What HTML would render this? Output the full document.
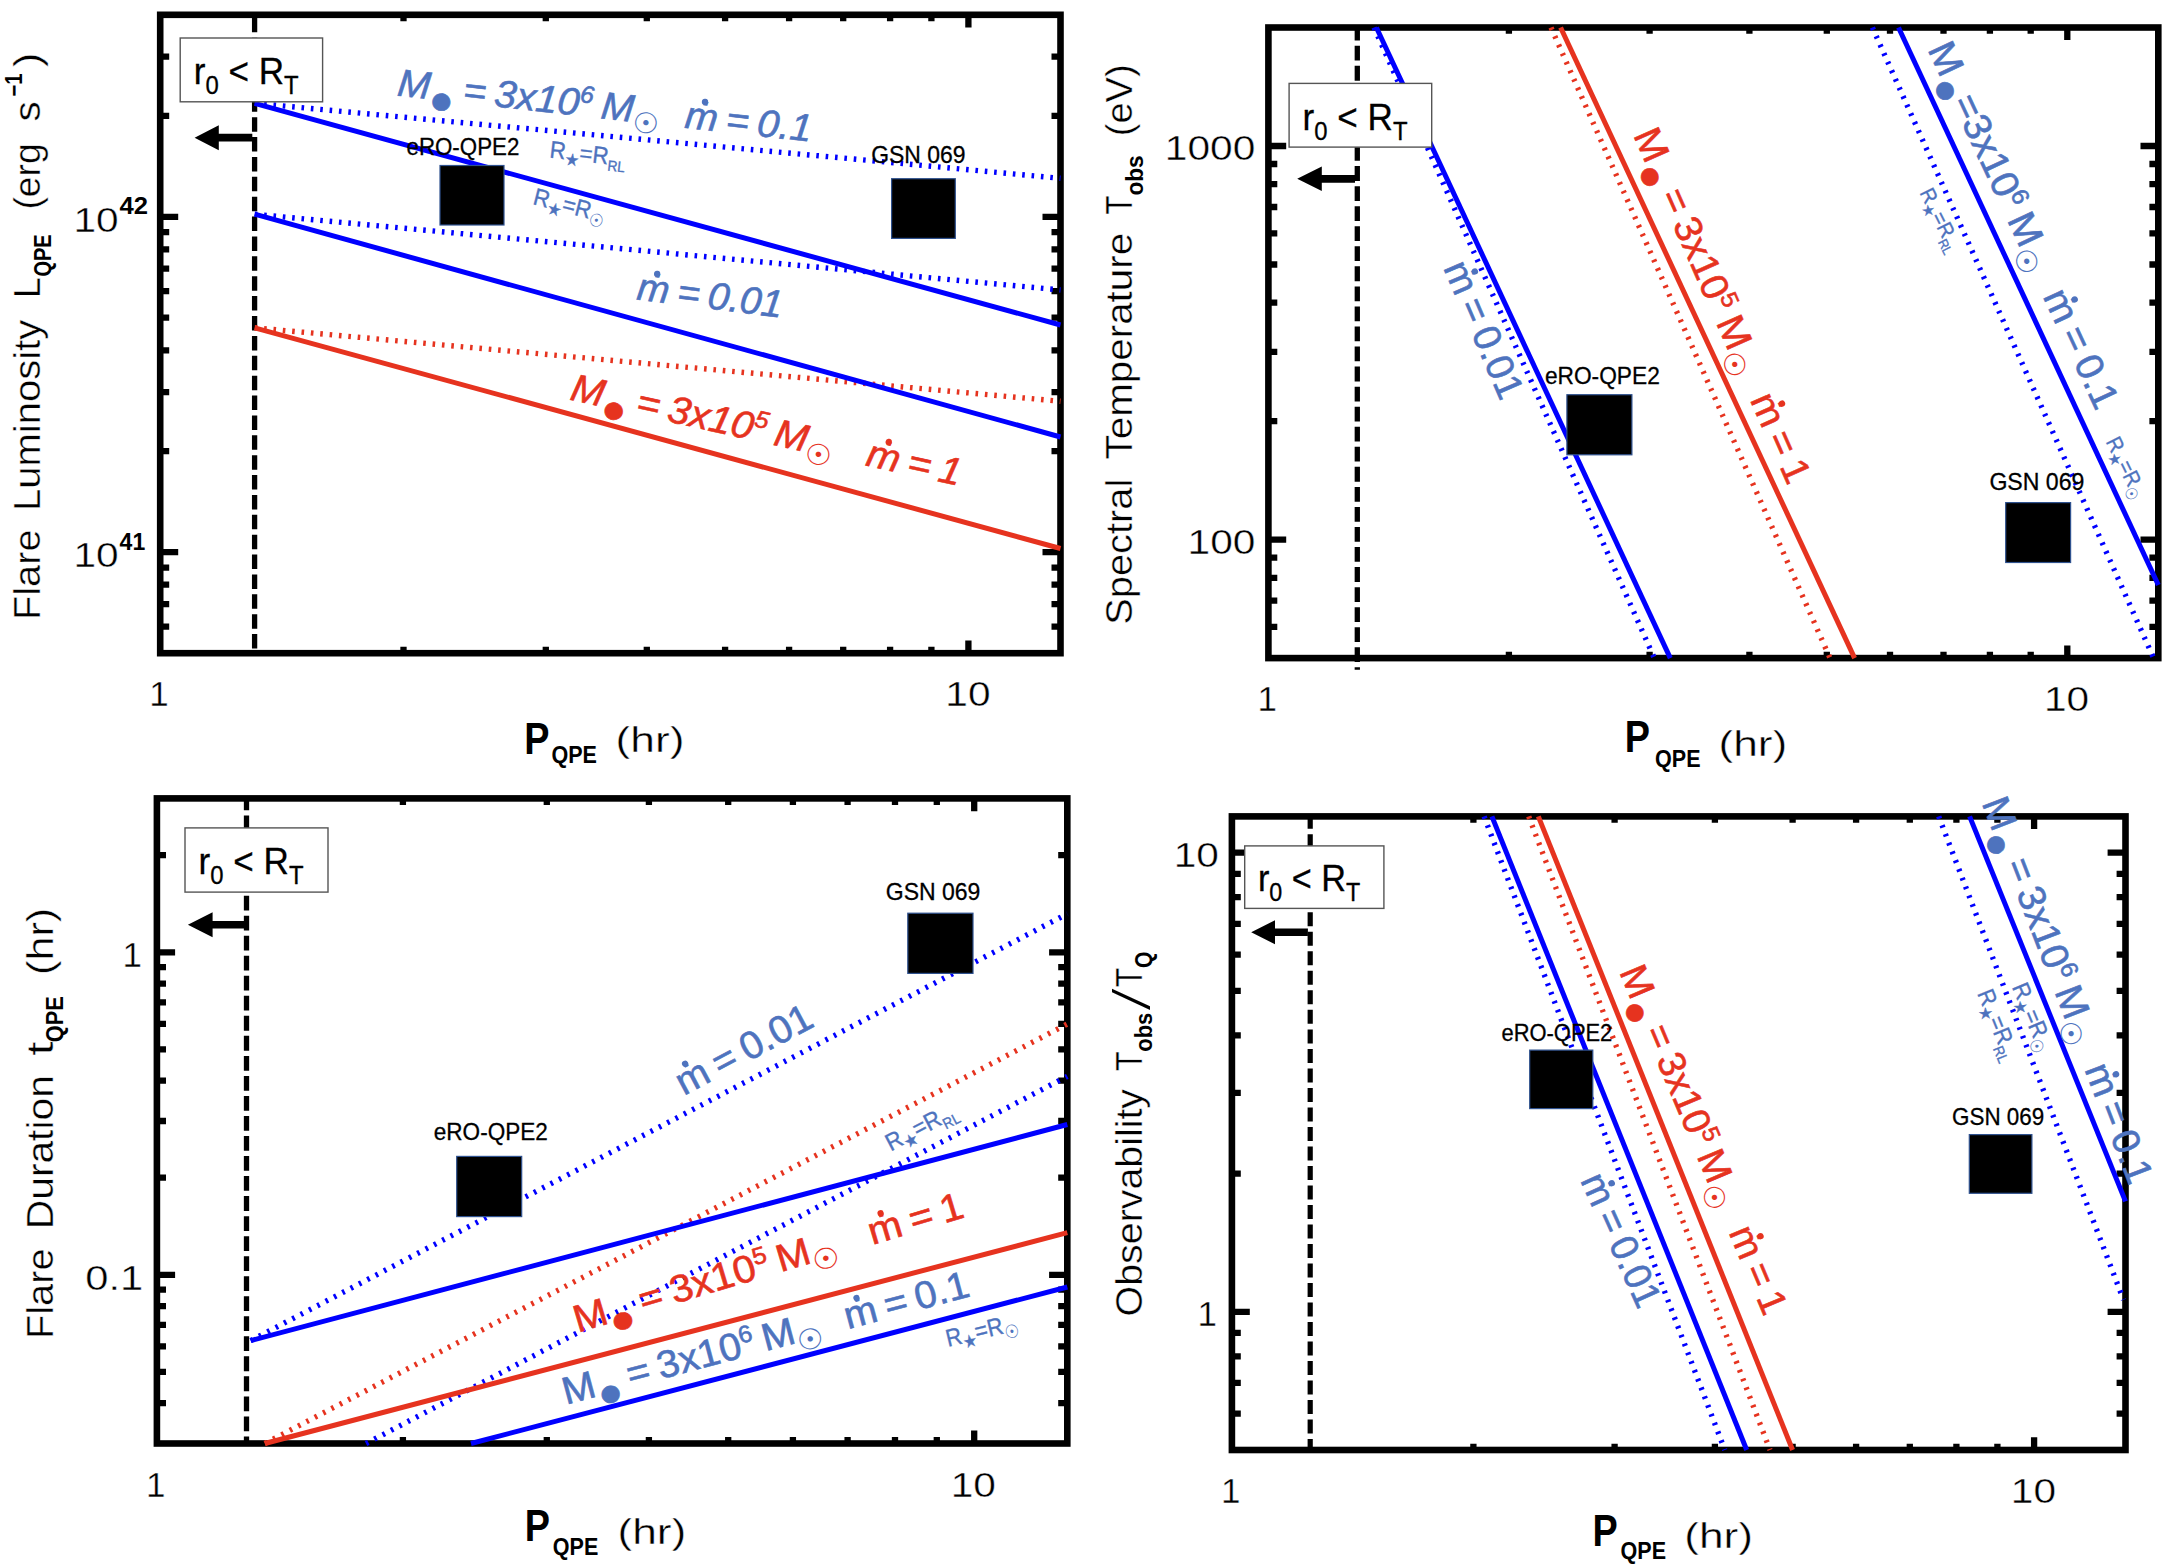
<!DOCTYPE html>
<html><head><meta charset="utf-8"><title>QPE flare model predictions</title>
<style>html,body{margin:0;padding:0;background:#fff}svg{display:block}text{font-family:'Liberation Sans','DejaVu Sans',sans-serif;white-space:pre}</style>
</head><body>
<svg xmlns="http://www.w3.org/2000/svg" width="2170" height="1565" viewBox="0 0 2170 1565">
<rect width="2170" height="1565" fill="#fff"/>
<path d="M968.4 653.2v-12.8M968.4 14.8v12.8M403.5 653.2v-6.4M403.5 14.8v6.4M545.8 653.2v-6.4M545.8 14.8v6.4M646.8 653.2v-6.4M646.8 14.8v6.4M725.1 653.2v-6.4M725.1 14.8v6.4M789.1 653.2v-6.4M789.1 14.8v6.4M843.2 653.2v-6.4M843.2 14.8v6.4M890.1 653.2v-6.4M890.1 14.8v6.4M931.4 653.2v-6.4M931.4 14.8v6.4M160.2 552.2h18.0M1060.5 552.2h-18.0M160.2 216.8h18.0M1060.5 216.8h-18.0M160.2 626.6h9.0M1060.5 626.6h-9.0M160.2 604.2h9.0M1060.5 604.2h-9.0M160.2 584.7h9.0M1060.5 584.7h-9.0M160.2 567.6h9.0M1060.5 567.6h-9.0M160.2 451.2h9.0M1060.5 451.2h-9.0M160.2 392.2h9.0M1060.5 392.2h-9.0M160.2 350.3h9.0M1060.5 350.3h-9.0M160.2 317.7h9.0M1060.5 317.7h-9.0M160.2 291.2h9.0M1060.5 291.2h-9.0M160.2 268.7h9.0M1060.5 268.7h-9.0M160.2 249.3h9.0M1060.5 249.3h-9.0M160.2 232.1h9.0M1060.5 232.1h-9.0M160.2 115.8h9.0M1060.5 115.8h-9.0M160.2 56.7h9.0M1060.5 56.7h-9.0" stroke="#000" stroke-width="6.3" fill="none"/>
<rect x="160.2" y="14.8" width="900.3" height="638.4" fill="none" stroke="#000" stroke-width="6.6"/>
<line x1="254.6" y1="14.8" x2="254.6" y2="653.2" stroke="#000" stroke-width="5.3" stroke-dasharray="14.5 5.38" stroke-dashoffset="16.88"/>
<line x1="254.7" y1="103.3" x2="1060.5" y2="178.3" stroke="#0000FF" stroke-width="5.4" stroke-dasharray="2.6 6.8"/>
<line x1="254.7" y1="214.2" x2="1060.5" y2="290.0" stroke="#0000FF" stroke-width="5.4" stroke-dasharray="2.6 6.8"/>
<line x1="254.7" y1="327.8" x2="1060.5" y2="401.3" stroke="#E6331F" stroke-width="5.4" stroke-dasharray="2.6 6.8"/>
<line x1="254.7" y1="103.3" x2="1060.5" y2="325.0" stroke="#0000FF" stroke-width="5.0"/>
<line x1="254.7" y1="214.2" x2="1060.5" y2="437.0" stroke="#0000FF" stroke-width="5.0"/>
<line x1="254.7" y1="327.8" x2="1060.5" y2="548.5" stroke="#E6331F" stroke-width="5.0"/>
<rect x="180.2" y="38.0" width="142.4" height="63.8" fill="#fff" stroke="#555" stroke-width="1.4"/>
<text xml:space="preserve" transform="translate(193.7 84.2) rotate(0.00)" font-size="37.5" fill="#000" textLength="105.0" lengthAdjust="spacingAndGlyphs" stroke="#000" stroke-width="0.3"><tspan font-size="37.5" dy="0.00">r</tspan><tspan font-size="25.5" dy="10.12">0</tspan><tspan font-size="37.5" dy="-10.12"> &lt; R</tspan><tspan font-size="25.5" dy="10.12">T</tspan></text>
<path d="M194.6 137.7L218.8 125.2V133.8H252.3V141.5H218.8V150.2Z" fill="#000"/>
<rect x="440.0" y="165.5" width="64.0" height="59.5" fill="#000" stroke="#2F528F" stroke-width="1.2"/>
<rect x="891.6" y="178.7" width="63.7" height="59.7" fill="#000" stroke="#2F528F" stroke-width="1.2"/>
<text xml:space="preserve" transform="translate(406.5 154.5) rotate(0.00)" font-size="24.8" fill="#000" textLength="112.8" lengthAdjust="spacingAndGlyphs" stroke="#000" stroke-width="0.3"><tspan font-size="24.8" dy="0.00">eRO-QPE2</tspan></text>
<text xml:space="preserve" transform="translate(871.2 162.6) rotate(0.00)" font-size="24.8" fill="#000" textLength="94.3" lengthAdjust="spacingAndGlyphs" stroke="#000" stroke-width="0.3"><tspan font-size="24.8" dy="0.00">GSN 069</tspan></text>
<circle transform="translate(396.5 95.5) rotate(6.38)" cx="307.3" cy="-27.9" r="3.16" fill="#4E73BE"/>
<text xml:space="preserve" id="L4" transform="translate(396.5 95.5) rotate(6.38)" font-size="38.5" fill="#4E73BE" font-style="italic" textLength="416.5" lengthAdjust="spacingAndGlyphs" stroke="#4E73BE" stroke-width="0.6" word-spacing="-2.5"><tspan font-size="38.5" dy="0.00">M</tspan><tspan font-size="40.0" dy="12.90">●</tspan><tspan font-size="38.5" dy="-12.90"> = 3x10</tspan><tspan font-size="23.9" dy="-13.86">6</tspan><tspan font-size="38.5" dy="13.86"> M</tspan><tspan font-size="28.9" dy="10.01" font-family="'DejaVu Sans',sans-serif" stroke="none">☉</tspan><tspan font-size="38.5" dy="-10.01">   ṁ = 0.1</tspan></text>
<circle transform="translate(635.9 299.4) rotate(7.20)" cx="17.9" cy="-27.9" r="3.16" fill="#4E73BE"/>
<text xml:space="preserve" id="L5" transform="translate(635.9 299.4) rotate(7.20)" font-size="38.5" fill="#4E73BE" font-style="italic" textLength="146.4" lengthAdjust="spacingAndGlyphs" stroke="#4E73BE" stroke-width="0.6" word-spacing="-2.5"><tspan font-size="38.5" dy="0.00">ṁ = 0.01</tspan></text>
<circle transform="translate(569.1 399.6) rotate(12.50)" cx="321.2" cy="-27.9" r="3.16" fill="#E6331F"/>
<text xml:space="preserve" id="L6" transform="translate(569.1 399.6) rotate(12.50)" font-size="38.5" fill="#E6331F" font-style="italic" textLength="398.9" lengthAdjust="spacingAndGlyphs" stroke="#E6331F" stroke-width="0.6" word-spacing="-2.5"><tspan font-size="38.5" dy="0.00">M</tspan><tspan font-size="40.0" dy="12.90">●</tspan><tspan font-size="38.5" dy="-12.90"> = 3x10</tspan><tspan font-size="23.9" dy="-13.86">5</tspan><tspan font-size="38.5" dy="13.86"> M</tspan><tspan font-size="28.9" dy="10.01" font-family="'DejaVu Sans',sans-serif" stroke="none">☉</tspan><tspan font-size="38.5" dy="-10.01">    ṁ = 1</tspan></text>
<text xml:space="preserve" transform="translate(549.1 157.6) rotate(6.50)" font-size="24" fill="#4E73BE" textLength="76.6" lengthAdjust="spacingAndGlyphs" stroke="#4E73BE" stroke-width="0.35"><tspan font-size="24.0" dy="0.00">R</tspan><tspan font-size="16.8" dy="5.28" font-family="'DejaVu Sans',sans-serif">★</tspan><tspan font-size="24.0" dy="-5.28">=R</tspan><tspan font-size="14.9" dy="6.24">RL</tspan></text>
<text xml:space="preserve" transform="translate(532.0 204.1) rotate(14.30)" font-size="24" fill="#4E73BE" textLength="73.8" lengthAdjust="spacingAndGlyphs" stroke="#4E73BE" stroke-width="0.35"><tspan font-size="24.0" dy="0.00">R</tspan><tspan font-size="16.8" dy="5.28" font-family="'DejaVu Sans',sans-serif">★</tspan><tspan font-size="24.0" dy="-5.28">=R</tspan><tspan font-size="18.0" dy="6.24" font-family="'DejaVu Sans',sans-serif" stroke="none">☉</tspan></text>
<text xml:space="preserve" transform="translate(40.0 620.0) rotate(-90.00)" font-size="37" fill="#000" textLength="90.5" lengthAdjust="spacingAndGlyphs" stroke="#fff" stroke-width="0.4"><tspan font-size="37.0" dy="0.00">Flare</tspan></text>
<text xml:space="preserve" transform="translate(40.0 511.1) rotate(-90.00)" font-size="37" fill="#000" textLength="191.4" lengthAdjust="spacingAndGlyphs" stroke="#fff" stroke-width="0.4"><tspan font-size="37.0" dy="0.00">Luminosity</tspan></text>
<text xml:space="preserve" transform="translate(40.0 298.3) rotate(-90.00)" font-size="37" fill="#000" textLength="21.3" lengthAdjust="spacingAndGlyphs" stroke="#fff" stroke-width="0.4"><tspan font-size="37.0" dy="0.00">L</tspan></text>
<text xml:space="preserve" transform="translate(50.6 276.6) rotate(-90.00)" font-size="23.5" fill="#000" font-weight="bold" textLength="42.2" lengthAdjust="spacingAndGlyphs"><tspan font-size="23.5" dy="0.00">QPE</tspan></text>
<text xml:space="preserve" transform="translate(40.0 209.6) rotate(-90.00)" font-size="37" fill="#000" textLength="66.2" lengthAdjust="spacingAndGlyphs" stroke="#fff" stroke-width="0.4"><tspan font-size="37.0" dy="0.00">(erg</tspan></text>
<text xml:space="preserve" transform="translate(40.0 121.5) rotate(-90.00)" font-size="37" fill="#000" textLength="20.3" lengthAdjust="spacingAndGlyphs" stroke="#fff" stroke-width="0.4"><tspan font-size="37.0" dy="0.00">s</tspan></text>
<text xml:space="preserve" transform="translate(21.7 96.6) rotate(-90.00)" font-size="23.5" fill="#000" font-weight="bold" textLength="23.1" lengthAdjust="spacingAndGlyphs"><tspan font-size="23.5" dy="0.00">−1</tspan></text>
<text xml:space="preserve" transform="translate(40.0 66.9) rotate(-90.00)" font-size="37" fill="#000" textLength="14.4" lengthAdjust="spacingAndGlyphs" stroke="#fff" stroke-width="0.4"><tspan font-size="37.0" dy="0.00">)</tspan></text>
<text xml:space="preserve" transform="translate(118.6 231.7) rotate(0.00)" font-size="35" fill="#000" textLength="45.2" lengthAdjust="spacingAndGlyphs" text-anchor="end" stroke="#fff" stroke-width="0.4"><tspan font-size="35.0" dy="0.00">10</tspan></text>
<text xml:space="preserve" transform="translate(119.6 214.1) rotate(0.00)" font-size="23" fill="#000" font-weight="bold" textLength="28.5" lengthAdjust="spacingAndGlyphs"><tspan font-size="23.0" dy="0.00">42</tspan></text>
<text xml:space="preserve" transform="translate(118.6 567.1) rotate(0.00)" font-size="35" fill="#000" textLength="45.2" lengthAdjust="spacingAndGlyphs" text-anchor="end" stroke="#fff" stroke-width="0.4"><tspan font-size="35.0" dy="0.00">10</tspan></text>
<text xml:space="preserve" transform="translate(119.6 549.5) rotate(0.00)" font-size="23" fill="#000" font-weight="bold"><tspan font-size="23.0" dy="0.00">41</tspan></text>
<text xml:space="preserve" transform="translate(159.0 705.9) rotate(0.00)" font-size="35" fill="#000" text-anchor="middle" stroke="#fff" stroke-width="0.4"><tspan font-size="35.0" dy="0.00">1</tspan></text>
<text xml:space="preserve" transform="translate(967.9 705.9) rotate(0.00)" font-size="35" fill="#000" textLength="45.2" lengthAdjust="spacingAndGlyphs" text-anchor="middle" stroke="#fff" stroke-width="0.4"><tspan font-size="35.0" dy="0.00">10</tspan></text>
<text xml:space="preserve" transform="translate(524.2 753.5) rotate(0.00)" font-size="44.4" fill="#000" font-weight="bold" textLength="25.2" lengthAdjust="spacingAndGlyphs"><tspan font-size="44.4" dy="0.00">P</tspan></text>
<text xml:space="preserve" transform="translate(551.4 762.7) rotate(0.00)" font-size="24.4" fill="#000" font-weight="bold" textLength="45.5" lengthAdjust="spacingAndGlyphs"><tspan font-size="24.4" dy="0.00">QPE</tspan></text>
<text xml:space="preserve" transform="translate(615.6 752.1) rotate(0.00)" font-size="34.5" fill="#000" textLength="68.9" lengthAdjust="spacingAndGlyphs" stroke="#fff" stroke-width="0.4"><tspan font-size="34.5" dy="0.00">(hr)</tspan></text>
<path d="M2067.3 658.1v-12.6M2067.3 27.5v12.6M1508.9 658.1v-6.3M1508.9 27.5v6.3M1649.6 658.1v-6.3M1649.6 27.5v6.3M1749.4 658.1v-6.3M1749.4 27.5v6.3M1826.8 658.1v-6.3M1826.8 27.5v6.3M1890.0 658.1v-6.3M1890.0 27.5v6.3M1943.5 658.1v-6.3M1943.5 27.5v6.3M1989.9 658.1v-6.3M1989.9 27.5v6.3M2030.7 658.1v-6.3M2030.7 27.5v6.3M1268.4 539.6h17.8M2158.3 539.6h-17.8M1268.4 146.0h17.8M2158.3 146.0h-17.8M1268.4 626.9h8.9M2158.3 626.9h-8.9M1268.4 600.6h8.9M2158.3 600.6h-8.9M1268.4 577.8h8.9M2158.3 577.8h-8.9M1268.4 557.6h8.9M2158.3 557.6h-8.9M1268.4 421.1h8.9M2158.3 421.1h-8.9M1268.4 351.8h8.9M2158.3 351.8h-8.9M1268.4 302.6h8.9M2158.3 302.6h-8.9M1268.4 264.5h8.9M2158.3 264.5h-8.9M1268.4 233.3h8.9M2158.3 233.3h-8.9M1268.4 207.0h8.9M2158.3 207.0h-8.9M1268.4 184.1h8.9M2158.3 184.1h-8.9M1268.4 164.0h8.9M2158.3 164.0h-8.9" stroke="#000" stroke-width="6.3" fill="none"/>
<rect x="1268.4" y="27.5" width="889.9" height="630.6" fill="none" stroke="#000" stroke-width="6.6"/>
<line x1="1357.3" y1="27.5" x2="1357.3" y2="669.7" stroke="#000" stroke-width="5.3" stroke-dasharray="14.8 5.25" stroke-dashoffset="1.75"/>
<line x1="1374.0" y1="27.5" x2="1654.3" y2="658.1" stroke="#0000FF" stroke-width="5.4" stroke-dasharray="2.6 6.8"/>
<line x1="1551.0" y1="27.5" x2="1830.0" y2="658.1" stroke="#E6331F" stroke-width="5.4" stroke-dasharray="2.6 6.8"/>
<line x1="1872.4" y1="27.5" x2="2153.6" y2="658.1" stroke="#0000FF" stroke-width="5.4" stroke-dasharray="2.6 6.8"/>
<line x1="1376.4" y1="27.5" x2="1670.3" y2="658.1" stroke="#0000FF" stroke-width="5.0"/>
<line x1="1560.6" y1="27.5" x2="1854.6" y2="658.1" stroke="#E6331F" stroke-width="5.0"/>
<line x1="1898.5" y1="27.5" x2="2158.3" y2="585.0" stroke="#0000FF" stroke-width="5.0"/>
<rect x="1289.1" y="83.4" width="142.6" height="63.7" fill="#fff" stroke="#555" stroke-width="1.4"/>
<text xml:space="preserve" transform="translate(1302.6 129.6) rotate(0.00)" font-size="37.5" fill="#000" textLength="105.0" lengthAdjust="spacingAndGlyphs" stroke="#000" stroke-width="0.3"><tspan font-size="37.5" dy="0.00">r</tspan><tspan font-size="25.5" dy="10.12">0</tspan><tspan font-size="37.5" dy="-10.12"> &lt; R</tspan><tspan font-size="25.5" dy="10.12">T</tspan></text>
<path d="M1297.2 178.8L1321.8 166.5V174.9H1355.0V182.8H1321.8V191.1Z" fill="#000"/>
<rect x="1566.9" y="394.7" width="65.0" height="60.1" fill="#000" stroke="#2F528F" stroke-width="1.2"/>
<rect x="2005.7" y="502.6" width="64.9" height="59.9" fill="#000" stroke="#2F528F" stroke-width="1.2"/>
<text xml:space="preserve" transform="translate(1544.9 384.0) rotate(0.00)" font-size="24.8" fill="#000" textLength="114.9" lengthAdjust="spacingAndGlyphs" stroke="#000" stroke-width="0.3"><tspan font-size="24.8" dy="0.00">eRO-QPE2</tspan></text>
<text xml:space="preserve" transform="translate(1989.4 490.1) rotate(0.00)" font-size="24.8" fill="#000" textLength="95.0" lengthAdjust="spacingAndGlyphs" stroke="#000" stroke-width="0.3"><tspan font-size="24.8" dy="0.00">GSN 069</tspan></text>
<circle transform="translate(1633.0 134.9) rotate(66.20)" cx="306.0" cy="-27.9" r="3.16" fill="#E6331F"/>
<text xml:space="preserve" id="L29" transform="translate(1633.0 134.9) rotate(66.20)" font-size="38.5" fill="#E6331F" textLength="384.2" lengthAdjust="spacingAndGlyphs" stroke="#E6331F" stroke-width="0.6" word-spacing="-2.5"><tspan font-size="38.5" dy="0.00">M</tspan><tspan font-size="40.0" dy="12.90">●</tspan><tspan font-size="38.5" dy="-12.90"> = 3x10</tspan><tspan font-size="23.9" dy="-13.86">5</tspan><tspan font-size="38.5" dy="13.86"> M</tspan><tspan font-size="28.9" dy="10.01" font-family="'DejaVu Sans',sans-serif" stroke="none">☉</tspan><tspan font-size="38.5" dy="-10.01">   ṁ = 1</tspan></text>
<circle transform="translate(1442.9 267.7) rotate(66.70)" cx="16.1" cy="-27.9" r="3.16" fill="#4E73BE"/>
<text xml:space="preserve" id="L30" transform="translate(1442.9 267.7) rotate(66.70)" font-size="38.5" fill="#4E73BE" textLength="146.1" lengthAdjust="spacingAndGlyphs" stroke="#4E73BE" stroke-width="0.6" word-spacing="-2.5"><tspan font-size="38.5" dy="0.00">ṁ = 0.01</tspan></text>
<circle transform="translate(1927.3 49.3) rotate(65.00)" cx="289.0" cy="-27.9" r="3.16" fill="#4E73BE"/>
<text xml:space="preserve" id="L31" transform="translate(1927.3 49.3) rotate(65.00)" font-size="38.5" fill="#4E73BE" textLength="400.0" lengthAdjust="spacingAndGlyphs" stroke="#4E73BE" stroke-width="0.6" word-spacing="-2.5"><tspan font-size="38.5" dy="0.00">M</tspan><tspan font-size="40.0" dy="12.90">●</tspan><tspan font-size="38.5" dy="-12.90">=3x10</tspan><tspan font-size="23.9" dy="-13.86">6</tspan><tspan font-size="38.5" dy="13.86"> M</tspan><tspan font-size="28.9" dy="10.01" font-family="'DejaVu Sans',sans-serif" stroke="none">☉</tspan><tspan font-size="38.5" dy="-10.01">   ṁ = 0.1</tspan></text>
<text xml:space="preserve" transform="translate(1919.2 192.5) rotate(63.50)" font-size="21.3" fill="#4E73BE" textLength="68.1" lengthAdjust="spacingAndGlyphs" stroke="#4E73BE" stroke-width="0.35"><tspan font-size="21.3" dy="0.00">R</tspan><tspan font-size="14.9" dy="4.69" font-family="'DejaVu Sans',sans-serif">★</tspan><tspan font-size="21.3" dy="-4.69">=R</tspan><tspan font-size="13.2" dy="5.54">RL</tspan></text>
<text xml:space="preserve" transform="translate(2105.5 441.4) rotate(63.80)" font-size="22" fill="#4E73BE" textLength="65.2" lengthAdjust="spacingAndGlyphs" stroke="#4E73BE" stroke-width="0.35"><tspan font-size="22.0" dy="0.00">R</tspan><tspan font-size="15.4" dy="4.84" font-family="'DejaVu Sans',sans-serif">★</tspan><tspan font-size="22.0" dy="-4.84">=R</tspan><tspan font-size="16.5" dy="5.72" font-family="'DejaVu Sans',sans-serif" stroke="none">☉</tspan></text>
<text xml:space="preserve" transform="translate(1132.0 624.7) rotate(-90.00)" font-size="37" fill="#000" textLength="146.0" lengthAdjust="spacingAndGlyphs" stroke="#fff" stroke-width="0.4"><tspan font-size="37.0" dy="0.00">Spectral</tspan></text>
<text xml:space="preserve" transform="translate(1132.0 459.4) rotate(-90.00)" font-size="37" fill="#000" textLength="226.5" lengthAdjust="spacingAndGlyphs" stroke="#fff" stroke-width="0.4"><tspan font-size="37.0" dy="0.00">Temperature</tspan></text>
<text xml:space="preserve" transform="translate(1132.0 214.8) rotate(-90.00)" font-size="37" fill="#000" textLength="19.3" lengthAdjust="spacingAndGlyphs" stroke="#fff" stroke-width="0.4"><tspan font-size="37.0" dy="0.00">T</tspan></text>
<text xml:space="preserve" transform="translate(1142.6 195.6) rotate(-90.00)" font-size="23.5" fill="#000" font-weight="bold" textLength="40.3" lengthAdjust="spacingAndGlyphs"><tspan font-size="23.5" dy="0.00">obs</tspan></text>
<text xml:space="preserve" transform="translate(1132.0 136.3) rotate(-90.00)" font-size="37" fill="#000" textLength="72.0" lengthAdjust="spacingAndGlyphs" stroke="#fff" stroke-width="0.4"><tspan font-size="37.0" dy="0.00">(eV)</tspan></text>
<text xml:space="preserve" transform="translate(1255.4 159.9) rotate(0.00)" font-size="35" fill="#000" textLength="90.6" lengthAdjust="spacingAndGlyphs" text-anchor="end" stroke="#fff" stroke-width="0.4"><tspan font-size="35.0" dy="0.00">1000</tspan></text>
<text xml:space="preserve" transform="translate(1255.4 553.5) rotate(0.00)" font-size="35" fill="#000" textLength="67.9" lengthAdjust="spacingAndGlyphs" text-anchor="end" stroke="#fff" stroke-width="0.4"><tspan font-size="35.0" dy="0.00">100</tspan></text>
<text xml:space="preserve" transform="translate(1267.2 710.7) rotate(0.00)" font-size="35" fill="#000" text-anchor="middle" stroke="#fff" stroke-width="0.4"><tspan font-size="35.0" dy="0.00">1</tspan></text>
<text xml:space="preserve" transform="translate(2066.5 710.7) rotate(0.00)" font-size="35" fill="#000" textLength="45.2" lengthAdjust="spacingAndGlyphs" text-anchor="middle" stroke="#fff" stroke-width="0.4"><tspan font-size="35.0" dy="0.00">10</tspan></text>
<text xml:space="preserve" transform="translate(1624.7 752.1) rotate(0.00)" font-size="44.4" fill="#000" font-weight="bold" textLength="25.2" lengthAdjust="spacingAndGlyphs"><tspan font-size="44.4" dy="0.00">P</tspan></text>
<text xml:space="preserve" transform="translate(1655.1 766.8) rotate(0.00)" font-size="24.4" fill="#000" font-weight="bold" textLength="45.5" lengthAdjust="spacingAndGlyphs"><tspan font-size="24.4" dy="0.00">QPE</tspan></text>
<text xml:space="preserve" transform="translate(1718.4 755.8) rotate(0.00)" font-size="34.5" fill="#000" textLength="68.9" lengthAdjust="spacingAndGlyphs" stroke="#fff" stroke-width="0.4"><tspan font-size="34.5" dy="0.00">(hr)</tspan></text>
<path d="M974.2 1443.5v-12.9M974.2 798.4v12.9M402.9 1443.5v-6.5M402.9 798.4v6.5M546.8 1443.5v-6.5M546.8 798.4v6.5M648.9 1443.5v-6.5M648.9 798.4v6.5M728.2 1443.5v-6.5M728.2 798.4v6.5M792.9 1443.5v-6.5M792.9 798.4v6.5M847.6 1443.5v-6.5M847.6 798.4v6.5M895.0 1443.5v-6.5M895.0 798.4v6.5M936.8 1443.5v-6.5M936.8 798.4v6.5M156.9 1274.8h18.2M1067.3 1274.8h-18.2M156.9 952.3h18.2M1067.3 952.3h-18.2M156.9 1403.2h9.1M1067.3 1403.2h-9.1M156.9 1371.9h9.1M1067.3 1371.9h-9.1M156.9 1346.4h9.1M1067.3 1346.4h-9.1M156.9 1324.8h9.1M1067.3 1324.8h-9.1M156.9 1306.1h9.1M1067.3 1306.1h-9.1M156.9 1289.6h9.1M1067.3 1289.6h-9.1M156.9 1177.7h9.1M1067.3 1177.7h-9.1M156.9 1121.0h9.1M1067.3 1121.0h-9.1M156.9 1080.7h9.1M1067.3 1080.7h-9.1M156.9 1049.4h9.1M1067.3 1049.4h-9.1M156.9 1023.9h9.1M1067.3 1023.9h-9.1M156.9 1002.3h9.1M1067.3 1002.3h-9.1M156.9 983.6h9.1M1067.3 983.6h-9.1M156.9 967.1h9.1M1067.3 967.1h-9.1M156.9 855.2h9.1M1067.3 855.2h-9.1" stroke="#000" stroke-width="6.3" fill="none"/>
<rect x="156.9" y="798.4" width="910.4" height="645.1" fill="none" stroke="#000" stroke-width="6.6"/>
<line x1="246.5" y1="798.4" x2="246.5" y2="1443.5" stroke="#000" stroke-width="5.3" stroke-dasharray="14.8 5.23" stroke-dashoffset="2.90"/>
<line x1="250.7" y1="1340.6" x2="1067.3" y2="913.8" stroke="#0000FF" stroke-width="5.4" stroke-dasharray="2.6 6.8"/>
<line x1="264.8" y1="1443.5" x2="1067.3" y2="1024.0" stroke="#E6331F" stroke-width="5.4" stroke-dasharray="2.6 6.8"/>
<line x1="366.0" y1="1443.5" x2="1067.3" y2="1076.3" stroke="#0000FF" stroke-width="5.4" stroke-dasharray="2.6 6.8"/>
<line x1="250.7" y1="1340.6" x2="1067.3" y2="1124.5" stroke="#0000FF" stroke-width="5.0"/>
<line x1="264.8" y1="1443.5" x2="1067.3" y2="1232.6" stroke="#E6331F" stroke-width="5.0"/>
<line x1="471.0" y1="1443.5" x2="1067.3" y2="1287.0" stroke="#0000FF" stroke-width="5.0"/>
<rect x="185.0" y="827.9" width="143.0" height="64.2" fill="#fff" stroke="#555" stroke-width="1.4"/>
<text xml:space="preserve" transform="translate(198.5 874.1) rotate(0.00)" font-size="37.5" fill="#000" textLength="105.0" lengthAdjust="spacingAndGlyphs" stroke="#000" stroke-width="0.3"><tspan font-size="37.5" dy="0.00">r</tspan><tspan font-size="25.5" dy="10.12">0</tspan><tspan font-size="37.5" dy="-10.12"> &lt; R</tspan><tspan font-size="25.5" dy="10.12">T</tspan></text>
<path d="M187.9 924.8L212.6 912.3V920.9H244.2V928.6H212.6V937.3Z" fill="#000"/>
<rect x="456.7" y="1156.4" width="65.0" height="60.2" fill="#000" stroke="#2F528F" stroke-width="1.2"/>
<rect x="907.8" y="913.2" width="65.2" height="60.2" fill="#000" stroke="#2F528F" stroke-width="1.2"/>
<text xml:space="preserve" transform="translate(433.8 1139.6) rotate(0.00)" font-size="24.8" fill="#000" textLength="114.0" lengthAdjust="spacingAndGlyphs" stroke="#000" stroke-width="0.3"><tspan font-size="24.8" dy="0.00">eRO-QPE2</tspan></text>
<text xml:space="preserve" transform="translate(885.8 900.0) rotate(0.00)" font-size="24.8" fill="#000" textLength="94.6" lengthAdjust="spacingAndGlyphs" stroke="#000" stroke-width="0.3"><tspan font-size="24.8" dy="0.00">GSN 069</tspan></text>
<circle transform="translate(683.7 1096.1) rotate(-28.10)" cx="16.5" cy="-27.9" r="3.16" fill="#4E73BE"/>
<text xml:space="preserve" id="L49" transform="translate(683.7 1096.1) rotate(-28.10)" font-size="38.5" fill="#4E73BE" textLength="149.8" lengthAdjust="spacingAndGlyphs" stroke="#4E73BE" stroke-width="0.6" word-spacing="-2.5"><tspan font-size="38.5" dy="0.00">ṁ = 0.01</tspan></text>
<text xml:space="preserve" transform="translate(890.8 1151.5) rotate(-27.70)" font-size="24.2" fill="#4E73BE" textLength="76.8" lengthAdjust="spacingAndGlyphs" stroke="#4E73BE" stroke-width="0.35"><tspan font-size="24.2" dy="0.00">R</tspan><tspan font-size="16.9" dy="5.32" font-family="'DejaVu Sans',sans-serif">★</tspan><tspan font-size="24.2" dy="-5.32">=R</tspan><tspan font-size="15.0" dy="6.29">RL</tspan></text>
<circle transform="translate(577.8 1332.7) rotate(-16.60)" cx="324.3" cy="-27.9" r="3.16" fill="#E6331F"/>
<text xml:space="preserve" id="L51" transform="translate(577.8 1332.7) rotate(-16.60)" font-size="38.5" fill="#E6331F" textLength="405.0" lengthAdjust="spacingAndGlyphs" stroke="#E6331F" stroke-width="0.6" word-spacing="-2.5"><tspan font-size="38.5" dy="0.00">M</tspan><tspan font-size="40.0" dy="12.90">●</tspan><tspan font-size="38.5" dy="-12.90"> = 3x10</tspan><tspan font-size="23.9" dy="-13.86">5</tspan><tspan font-size="38.5" dy="13.86"> M</tspan><tspan font-size="28.9" dy="10.01" font-family="'DejaVu Sans',sans-serif" stroke="none">☉</tspan><tspan font-size="38.5" dy="-10.01">    ṁ = 1</tspan></text>
<circle transform="translate(566.1 1404.7) rotate(-15.00)" cx="308.1" cy="-27.9" r="3.16" fill="#4E73BE"/>
<text xml:space="preserve" id="L52" transform="translate(566.1 1404.7) rotate(-15.00)" font-size="38.5" fill="#4E73BE" textLength="419.9" lengthAdjust="spacingAndGlyphs" stroke="#4E73BE" stroke-width="0.6" word-spacing="-2.5"><tspan font-size="38.5" dy="0.00">M</tspan><tspan font-size="40.0" dy="12.90">●</tspan><tspan font-size="38.5" dy="-12.90"> = 3x10</tspan><tspan font-size="23.9" dy="-13.86">6</tspan><tspan font-size="38.5" dy="13.86"> M</tspan><tspan font-size="28.9" dy="10.01" font-family="'DejaVu Sans',sans-serif" stroke="none">☉</tspan><tspan font-size="38.5" dy="-10.01">   ṁ = 0.1</tspan></text>
<text xml:space="preserve" transform="translate(948.1 1346.9) rotate(-13.50)" font-size="24.5" fill="#4E73BE" textLength="73.0" lengthAdjust="spacingAndGlyphs" stroke="#4E73BE" stroke-width="0.35"><tspan font-size="24.5" dy="0.00">R</tspan><tspan font-size="17.1" dy="5.39" font-family="'DejaVu Sans',sans-serif">★</tspan><tspan font-size="24.5" dy="-5.39">=R</tspan><tspan font-size="18.4" dy="6.37" font-family="'DejaVu Sans',sans-serif" stroke="none">☉</tspan></text>
<text xml:space="preserve" transform="translate(52.7 1339.0) rotate(-90.00)" font-size="37" fill="#000" textLength="90.6" lengthAdjust="spacingAndGlyphs" stroke="#fff" stroke-width="0.4"><tspan font-size="37.0" dy="0.00">Flare</tspan></text>
<text xml:space="preserve" transform="translate(52.7 1229.2) rotate(-90.00)" font-size="37" fill="#000" textLength="154.0" lengthAdjust="spacingAndGlyphs" stroke="#fff" stroke-width="0.4"><tspan font-size="37.0" dy="0.00">Duration</tspan></text>
<text xml:space="preserve" transform="translate(52.7 1055.8) rotate(-90.00)" font-size="37" fill="#000" textLength="14.3" lengthAdjust="spacingAndGlyphs" stroke="#fff" stroke-width="0.4"><tspan font-size="37.0" dy="0.00">t</tspan></text>
<text xml:space="preserve" transform="translate(63.3 1042.3) rotate(-90.00)" font-size="23.5" fill="#000" font-weight="bold" textLength="46.0" lengthAdjust="spacingAndGlyphs"><tspan font-size="23.5" dy="0.00">QPE</tspan></text>
<text xml:space="preserve" transform="translate(52.7 975.0) rotate(-90.00)" font-size="37" fill="#000" textLength="67.2" lengthAdjust="spacingAndGlyphs" stroke="#fff" stroke-width="0.4"><tspan font-size="37.0" dy="0.00">(hr)</tspan></text>
<text xml:space="preserve" transform="translate(141.9 967.0) rotate(0.00)" font-size="35" fill="#000" text-anchor="end" stroke="#fff" stroke-width="0.4"><tspan font-size="35.0" dy="0.00">1</tspan></text>
<text xml:space="preserve" transform="translate(143.2 1289.5) rotate(0.00)" font-size="35" fill="#000" textLength="58.0" lengthAdjust="spacingAndGlyphs" text-anchor="end" stroke="#fff" stroke-width="0.4"><tspan font-size="35.0" dy="0.00">0.1</tspan></text>
<text xml:space="preserve" transform="translate(155.7 1497.2) rotate(0.00)" font-size="35" fill="#000" text-anchor="middle" stroke="#fff" stroke-width="0.4"><tspan font-size="35.0" dy="0.00">1</tspan></text>
<text xml:space="preserve" transform="translate(973.3 1497.2) rotate(0.00)" font-size="35" fill="#000" textLength="45.2" lengthAdjust="spacingAndGlyphs" text-anchor="middle" stroke="#fff" stroke-width="0.4"><tspan font-size="35.0" dy="0.00">10</tspan></text>
<text xml:space="preserve" transform="translate(524.7 1540.8) rotate(0.00)" font-size="44.4" fill="#000" font-weight="bold" textLength="25.2" lengthAdjust="spacingAndGlyphs"><tspan font-size="44.4" dy="0.00">P</tspan></text>
<text xml:space="preserve" transform="translate(552.8 1554.7) rotate(0.00)" font-size="24.4" fill="#000" font-weight="bold" textLength="45.5" lengthAdjust="spacingAndGlyphs"><tspan font-size="24.4" dy="0.00">QPE</tspan></text>
<text xml:space="preserve" transform="translate(617.4 1543.6) rotate(0.00)" font-size="34.5" fill="#000" textLength="68.9" lengthAdjust="spacingAndGlyphs" stroke="#fff" stroke-width="0.4"><tspan font-size="34.5" dy="0.00">(hr)</tspan></text>
<path d="M2034.1 1450.0v-12.7M2034.1 816.4v12.7M1473.4 1450.0v-6.3M1473.4 816.4v6.3M1614.6 1450.0v-6.3M1614.6 816.4v6.3M1714.9 1450.0v-6.3M1714.9 816.4v6.3M1792.6 1450.0v-6.3M1792.6 816.4v6.3M1856.1 1450.0v-6.3M1856.1 816.4v6.3M1909.8 1450.0v-6.3M1909.8 816.4v6.3M1956.4 1450.0v-6.3M1956.4 816.4v6.3M1997.4 1450.0v-6.3M1997.4 816.4v6.3M1231.9 1311.8h17.9M2125.5 1311.8h-17.9M1231.9 852.7h17.9M2125.5 852.7h-17.9M1231.9 1413.7h8.9M2125.5 1413.7h-8.9M1231.9 1382.9h8.9M2125.5 1382.9h-8.9M1231.9 1356.3h8.9M2125.5 1356.3h-8.9M1231.9 1332.8h8.9M2125.5 1332.8h-8.9M1231.9 1173.6h8.9M2125.5 1173.6h-8.9M1231.9 1092.8h8.9M2125.5 1092.8h-8.9M1231.9 1035.4h8.9M2125.5 1035.4h-8.9M1231.9 990.9h8.9M2125.5 990.9h-8.9M1231.9 954.6h8.9M2125.5 954.6h-8.9M1231.9 923.9h8.9M2125.5 923.9h-8.9M1231.9 897.2h8.9M2125.5 897.2h-8.9M1231.9 873.8h8.9M2125.5 873.8h-8.9" stroke="#000" stroke-width="6.3" fill="none"/>
<rect x="1231.9" y="816.4" width="893.6" height="633.6" fill="none" stroke="#000" stroke-width="6.6"/>
<line x1="1310.2" y1="816.4" x2="1310.2" y2="1450.0" stroke="#000" stroke-width="5.2" stroke-dasharray="14.0 5.507" stroke-dashoffset="1.60"/>
<line x1="1484.1" y1="816.4" x2="1724.8" y2="1450.0" stroke="#0000FF" stroke-width="5.4" stroke-dasharray="2.6 6.8"/>
<line x1="1528.7" y1="816.4" x2="1770.0" y2="1450.0" stroke="#E6331F" stroke-width="5.4" stroke-dasharray="2.6 6.8"/>
<line x1="1938.7" y1="816.4" x2="2123.5" y2="1299.8" stroke="#0000FF" stroke-width="5.4" stroke-dasharray="2.6 6.8"/>
<line x1="1491.9" y1="816.4" x2="1746.7" y2="1450.0" stroke="#0000FF" stroke-width="5.0"/>
<line x1="1538.3" y1="816.4" x2="1792.6" y2="1450.0" stroke="#E6331F" stroke-width="5.0"/>
<line x1="1969.6" y1="816.4" x2="2125.5" y2="1201.4" stroke="#0000FF" stroke-width="5.0"/>
<rect x="1244.7" y="845.9" width="139.2" height="62.5" fill="#fff" stroke="#555" stroke-width="1.4"/>
<text xml:space="preserve" transform="translate(1257.9 890.9) rotate(0.00)" font-size="36.5625" fill="#000" textLength="102.4" lengthAdjust="spacingAndGlyphs" stroke="#000" stroke-width="0.3"><tspan font-size="36.6" dy="0.00">r</tspan><tspan font-size="24.9" dy="9.87">0</tspan><tspan font-size="36.6" dy="-9.87"> &lt; R</tspan><tspan font-size="24.9" dy="9.87">T</tspan></text>
<path d="M1251.2 932.3L1275.0 920.3V928.5H1307.9V936.1H1275.0V944.3Z" fill="#000"/>
<rect x="1529.7" y="1050.1" width="63.1" height="58.5" fill="#000" stroke="#2F528F" stroke-width="1.2"/>
<rect x="1969.3" y="1134.6" width="62.6" height="58.7" fill="#000" stroke="#2F528F" stroke-width="1.2"/>
<text xml:space="preserve" transform="translate(1501.5 1040.7) rotate(0.00)" font-size="24.8" fill="#000" textLength="110.8" lengthAdjust="spacingAndGlyphs" stroke="#000" stroke-width="0.3"><tspan font-size="24.8" dy="0.00">eRO-QPE2</tspan></text>
<text xml:space="preserve" transform="translate(1952.0 1125.0) rotate(0.00)" font-size="24.8" fill="#000" textLength="92.2" lengthAdjust="spacingAndGlyphs" stroke="#000" stroke-width="0.3"><tspan font-size="24.8" dy="0.00">GSN 069</tspan></text>
<circle transform="translate(1619.1 971.7) rotate(67.20)" cx="298.6" cy="-27.9" r="3.16" fill="#E6331F"/>
<text xml:space="preserve" id="L69" transform="translate(1619.1 971.7) rotate(67.20)" font-size="38.5" fill="#E6331F" textLength="374.9" lengthAdjust="spacingAndGlyphs" stroke="#E6331F" stroke-width="0.6" word-spacing="-2.5"><tspan font-size="38.5" dy="0.00">M</tspan><tspan font-size="40.0" dy="12.90">●</tspan><tspan font-size="38.5" dy="-12.90"> = 3x10</tspan><tspan font-size="23.9" dy="-13.86">5</tspan><tspan font-size="38.5" dy="13.86"> M</tspan><tspan font-size="28.9" dy="10.01" font-family="'DejaVu Sans',sans-serif" stroke="none">☉</tspan><tspan font-size="38.5" dy="-10.01">   ṁ = 1</tspan></text>
<circle transform="translate(1579.9 1180.3) rotate(65.80)" cx="15.7" cy="-27.9" r="3.16" fill="#4E73BE"/>
<text xml:space="preserve" id="L70" transform="translate(1579.9 1180.3) rotate(65.80)" font-size="38.5" fill="#4E73BE" textLength="142.7" lengthAdjust="spacingAndGlyphs" stroke="#4E73BE" stroke-width="0.6" word-spacing="-2.5"><tspan font-size="38.5" dy="0.00">ṁ = 0.01</tspan></text>
<circle transform="translate(1981.5 803.0) rotate(68.90)" cx="301.5" cy="-27.9" r="3.16" fill="#4E73BE"/>
<text xml:space="preserve" id="L71" transform="translate(1981.5 803.0) rotate(68.90)" font-size="38.5" fill="#4E73BE" textLength="411.0" lengthAdjust="spacingAndGlyphs" stroke="#4E73BE" stroke-width="0.6" word-spacing="-2.5"><tspan font-size="38.5" dy="0.00">M</tspan><tspan font-size="40.0" dy="12.90">●</tspan><tspan font-size="38.5" dy="-12.90"> = 3x10</tspan><tspan font-size="23.9" dy="-13.86">6</tspan><tspan font-size="38.5" dy="13.86"> M</tspan><tspan font-size="28.9" dy="10.01" font-family="'DejaVu Sans',sans-serif" stroke="none">☉</tspan><tspan font-size="38.5" dy="-10.01">   ṁ = 0.1</tspan></text>
<text xml:space="preserve" transform="translate(2011.7 987.0) rotate(67.20)" font-size="23.8" fill="#4E73BE" textLength="71.6" lengthAdjust="spacingAndGlyphs" stroke="#4E73BE" stroke-width="0.35"><tspan font-size="23.8" dy="0.00">R</tspan><tspan font-size="16.7" dy="5.24" font-family="'DejaVu Sans',sans-serif">★</tspan><tspan font-size="23.8" dy="-5.24">=R</tspan><tspan font-size="17.9" dy="6.19" font-family="'DejaVu Sans',sans-serif" stroke="none">☉</tspan></text>
<text xml:space="preserve" transform="translate(1976.9 993.2) rotate(67.80)" font-size="23.8" fill="#4E73BE" textLength="74.3" lengthAdjust="spacingAndGlyphs" stroke="#4E73BE" stroke-width="0.35"><tspan font-size="23.8" dy="0.00">R</tspan><tspan font-size="16.7" dy="5.24" font-family="'DejaVu Sans',sans-serif">★</tspan><tspan font-size="23.8" dy="-5.24">=R</tspan><tspan font-size="14.8" dy="6.19">RL</tspan></text>
<text xml:space="preserve" transform="translate(1141.5 1316.4) rotate(-90.00)" font-size="37" fill="#000" textLength="227.4" lengthAdjust="spacingAndGlyphs" stroke="#fff" stroke-width="0.4"><tspan font-size="37.0" dy="0.00">Observability</tspan></text>
<text xml:space="preserve" transform="translate(1141.5 1071.3) rotate(-90.00)" font-size="37" fill="#000" textLength="20.0" lengthAdjust="spacingAndGlyphs" stroke="#fff" stroke-width="0.4"><tspan font-size="37.0" dy="0.00">T</tspan></text>
<text xml:space="preserve" transform="translate(1152.1 1051.8) rotate(-90.00)" font-size="23.5" fill="#000" font-weight="bold" textLength="39.1" lengthAdjust="spacingAndGlyphs"><tspan font-size="23.5" dy="0.00">obs</tspan></text>
<text xml:space="preserve" transform="translate(1146.0 1011.0) rotate(-90.00)" font-size="46" fill="#000" textLength="23.4" lengthAdjust="spacingAndGlyphs" style="font-family:'DejaVu Sans Light','DejaVu Sans',sans-serif;font-weight:200"><tspan font-size="46.0" dy="0.00">/</tspan></text>
<text xml:space="preserve" transform="translate(1141.5 987.6) rotate(-90.00)" font-size="37" fill="#000" textLength="20.0" lengthAdjust="spacingAndGlyphs" stroke="#fff" stroke-width="0.4"><tspan font-size="37.0" dy="0.00">T</tspan></text>
<text xml:space="preserve" transform="translate(1152.1 968.1) rotate(-90.00)" font-size="23.5" fill="#000" font-weight="bold" textLength="16.4" lengthAdjust="spacingAndGlyphs"><tspan font-size="23.5" dy="0.00">Q</tspan></text>
<text xml:space="preserve" transform="translate(1218.9 866.7) rotate(0.00)" font-size="35" fill="#000" textLength="45.2" lengthAdjust="spacingAndGlyphs" text-anchor="end" stroke="#fff" stroke-width="0.4"><tspan font-size="35.0" dy="0.00">10</tspan></text>
<text xml:space="preserve" transform="translate(1216.9 1325.8) rotate(0.00)" font-size="35" fill="#000" text-anchor="end" stroke="#fff" stroke-width="0.4"><tspan font-size="35.0" dy="0.00">1</tspan></text>
<text xml:space="preserve" transform="translate(1230.7 1503.2) rotate(0.00)" font-size="35" fill="#000" text-anchor="middle" stroke="#fff" stroke-width="0.4"><tspan font-size="35.0" dy="0.00">1</tspan></text>
<text xml:space="preserve" transform="translate(2033.4 1503.2) rotate(0.00)" font-size="35" fill="#000" textLength="45.2" lengthAdjust="spacingAndGlyphs" text-anchor="middle" stroke="#fff" stroke-width="0.4"><tspan font-size="35.0" dy="0.00">10</tspan></text>
<text xml:space="preserve" transform="translate(1592.4 1545.9) rotate(0.00)" font-size="44.4" fill="#000" font-weight="bold" textLength="25.2" lengthAdjust="spacingAndGlyphs"><tspan font-size="44.4" dy="0.00">P</tspan></text>
<text xml:space="preserve" transform="translate(1620.5 1559.3) rotate(0.00)" font-size="24.4" fill="#000" font-weight="bold" textLength="45.5" lengthAdjust="spacingAndGlyphs"><tspan font-size="24.4" dy="0.00">QPE</tspan></text>
<text xml:space="preserve" transform="translate(1684.2 1548.2) rotate(0.00)" font-size="34.5" fill="#000" textLength="68.9" lengthAdjust="spacingAndGlyphs" stroke="#fff" stroke-width="0.4"><tspan font-size="34.5" dy="0.00">(hr)</tspan></text>
</svg>
</body></html>
